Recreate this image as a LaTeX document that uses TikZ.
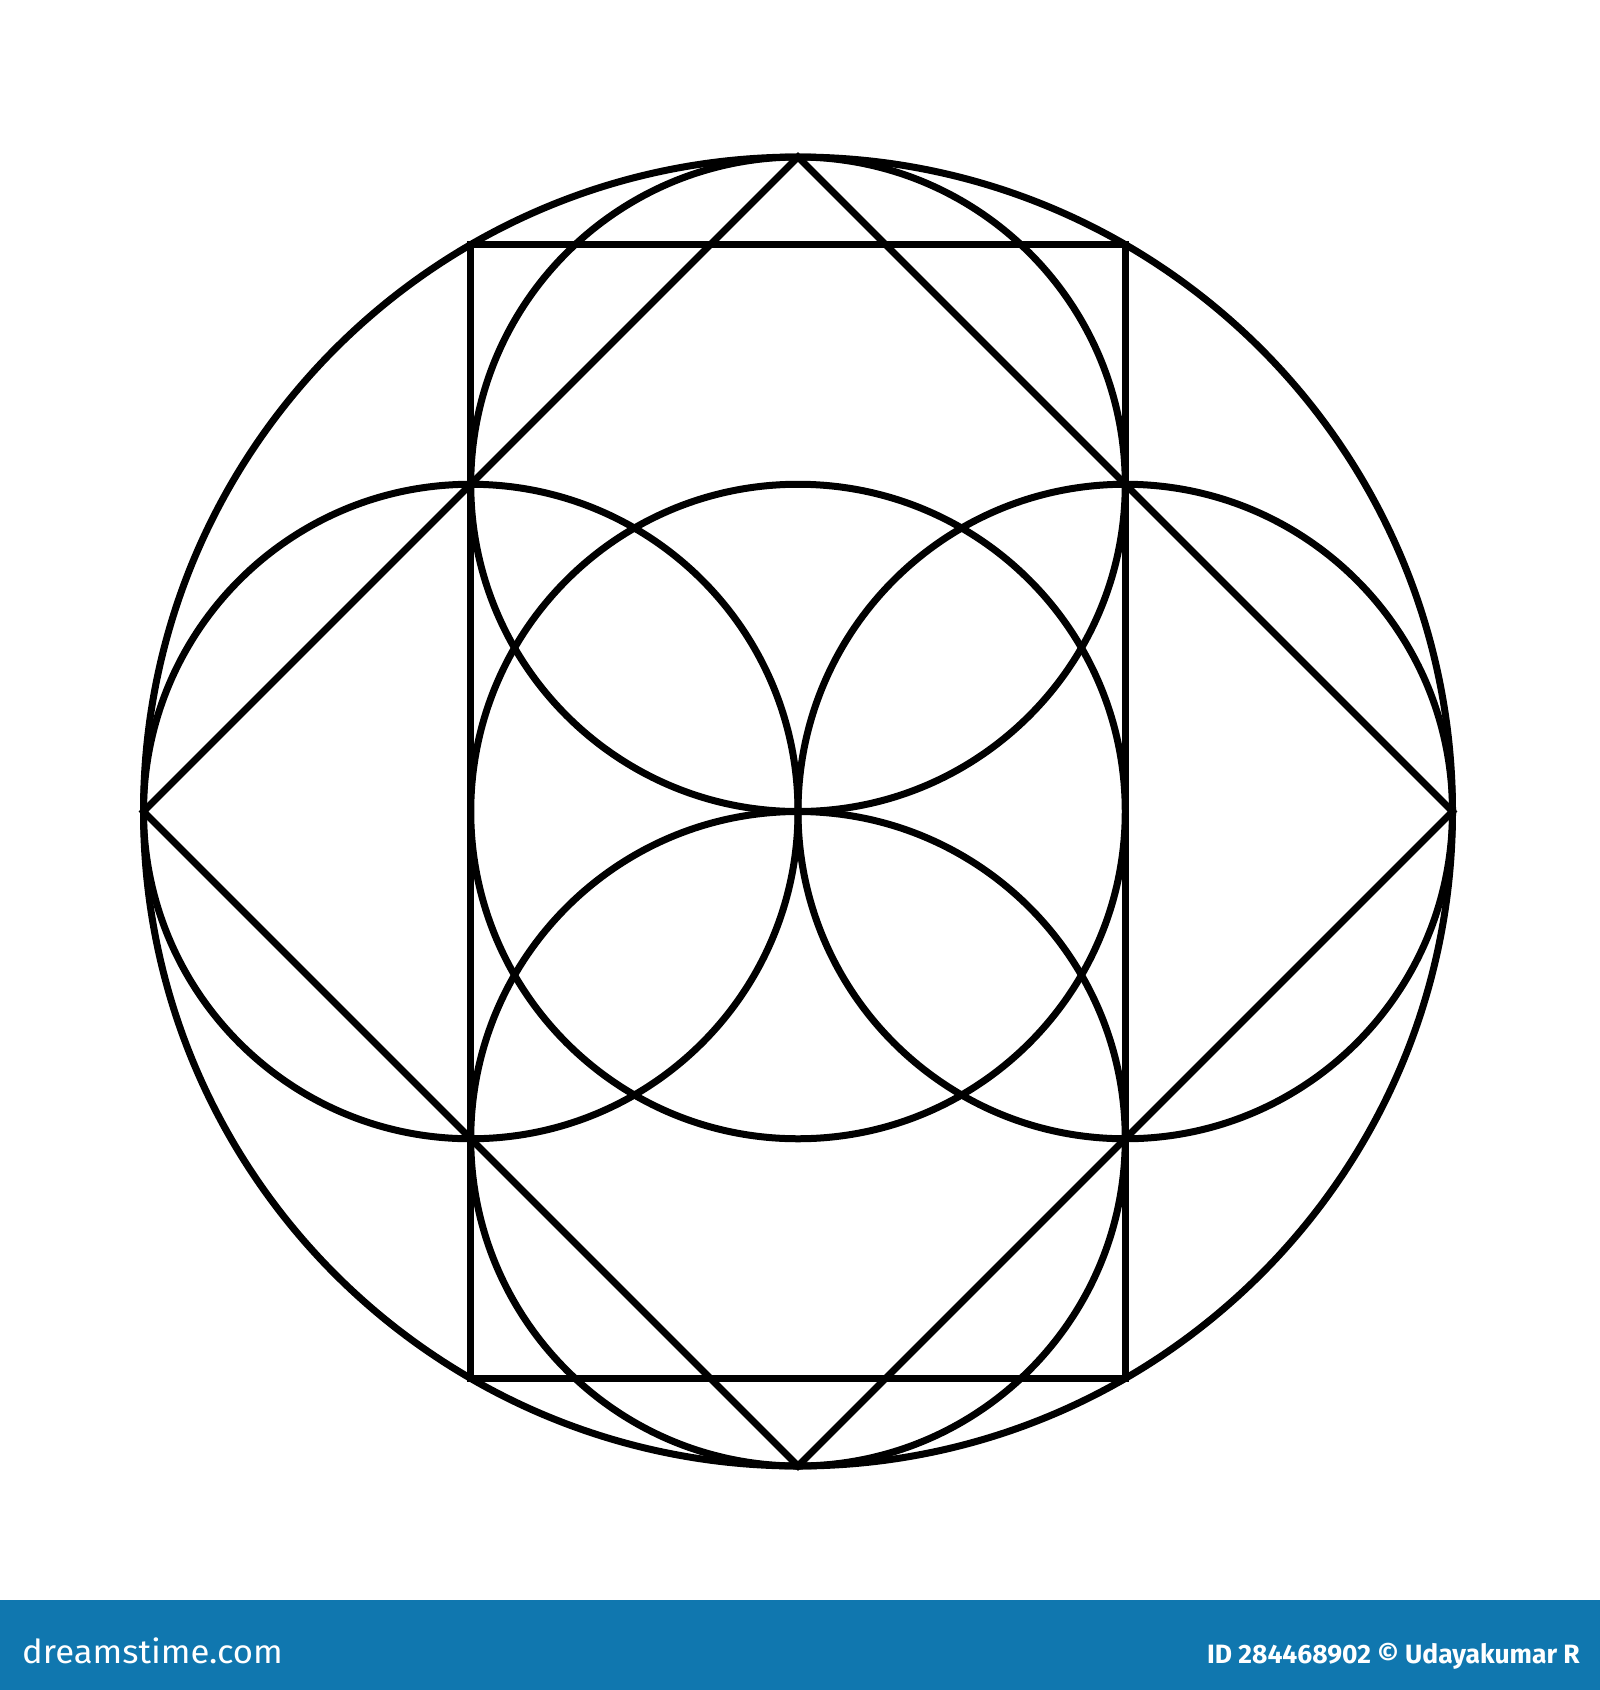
\documentclass[tikz,border=0pt]{standalone}
\usepackage{fontspec}
\setmainfont{Fira Sans}
\usetikzlibrary{calc}
\definecolor{barblue}{RGB}{16,119,175}
\tikzset{geo/.style={line width=7pt, draw=black}}
\begin{document}
\begin{tikzpicture}[x=1pt,y=-1pt]
\fill[white] (0,0) rectangle (1600,1690);
\useasboundingbox (0,0) rectangle (1600,1690);
\def\R{654.5}
\def\r{327.25}
\def\h{566.8}
\coordinate (c) at (798,811.5);
% outer circle
\draw[geo] (c) circle[radius=\R];
% five small circles
\draw[geo] (c) circle[radius=\r];
\draw[geo] ($(c)+(\r,0)$) circle[radius=\r];
\draw[geo] ($(c)+(-\r,0)$) circle[radius=\r];
\draw[geo] ($(c)+(0,\r)$) circle[radius=\r];
\draw[geo] ($(c)+(0,-\r)$) circle[radius=\r];
% diamond
\coordinate (dt) at ($(c)+(0,-\R)$);
\coordinate (dr) at ($(c)+(\R,0)$);
\coordinate (db) at ($(c)+(0,\R)$);
\coordinate (dl) at ($(c)+(-\R,0)$);
\draw[geo, line join=miter] (dt) -- (dr) -- (db) -- (dl) -- cycle;
% rectangle
\coordinate (rtl) at ($(c)+(-\r,-\h)$);
\coordinate (rbr) at ($(c)+(\r,\h)$);
\draw[geo] (rtl) rectangle (rbr);
% footer
\fill[barblue] (0,1600) rectangle (1600,1690);
\node[anchor=base west, text=white, inner sep=0pt] (logo) at (22,1663)
  {\scalebox{1.05}[1]{\fontsize{33}{33}\selectfont dreamstime.com}};
\node[anchor=base east, text=white, inner sep=0pt] (credit) at (1580,1663)
  {\scalebox{1.0}[1]{\fontsize{26.5}{26.5}\selectfont\bfseries ID 284468902 © Udayakumar R}};
\end{tikzpicture}
\end{document}
